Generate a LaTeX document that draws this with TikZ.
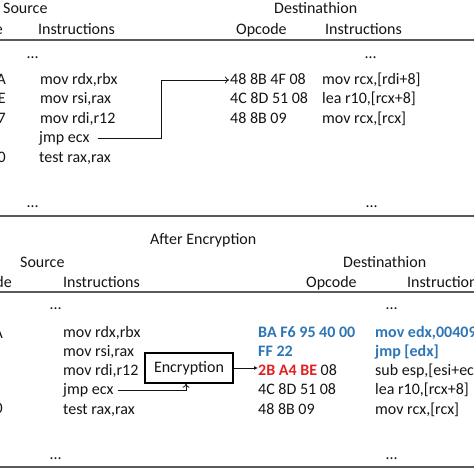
\documentclass[tikz,border=0pt]{standalone}
\usepackage{fontspec}
\setmainfont{Carlito}
\usetikzlibrary{arrows.meta}
\definecolor{ruleL}{RGB}{90,90,90}
\definecolor{encB}{RGB}{46,117,182}
\definecolor{encR}{RGB}{226,32,36}
\definecolor{txtC}{RGB}{20,20,20}

\begin{document}
\begin{tikzpicture}[
  x=1pt, y=-1pt,
  font=\fontsize{16}{19}\selectfont,
  txt/.style={anchor=west, inner sep=0pt, text height=11pt, text depth=3pt, text=txtC},
  frag/.style={txt, anchor=east},
  hot/.style={txt, text=encB, font=\fontsize{16}{19}\selectfont\bfseries},
  rule/.style={line width=1.4pt, draw=ruleL},
  flow/.style={-{To[length=4pt,width=7pt]}, line width=0.8pt, draw=txtC},
  feed/.style={-{Latex[length=4pt,width=4pt]}, line width=0.8pt, draw=txtC},
  encbox/.style={draw=black, line width=1.5pt, minimum width=88pt, minimum height=30pt, inner sep=0pt, text=txtC},
]
\useasboundingbox (0,0) rectangle (474,474);
\clip (0,0) rectangle (474,474);

% ---------- before encryption ----------
\node[txt] (srcT) at (3,9) {Source};
\node[txt] (dstT) at (274,9) {Destinathion};
\node[frag] (srcOp) at (3,30) {Opcode};
\node[txt] (srcIn) at (38,30) {Instructions};
\node[txt] (dstOp) at (236,30) {Opcode};
\node[txt] (dstIn) at (325,30) {Instructions};
\coordinate (ruleA) at (0,40);
\draw[rule] (ruleA) -- (ruleA -| 474,0);

\node[txt] (srcDots) at (27,54) {…};
\node[txt] (dstDots) at (365,54) {…};

\node[frag] (adrA) at (6,80) {A};
\node[frag] (adrB) at (6,99.5) {E};
\node[frag] (adrC) at (6,119) {7};
\node[frag] (adrE) at (6,158) {0};

\node[txt] (srcA) at (40,80) {mov rdx,rbx};
\node[txt] (srcB) at (40,99.5) {mov rsi,rax};
\node[txt] (srcC) at (40,119) {mov rdi,r12};
\node[txt] (srcD) at (39,138.5) {jmp ecx};
\node[txt] (srcE) at (39,158) {test rax,rax};

\node[txt] (opA) at (230,80) {48 8B 4F 08};
\node[txt] (opB) at (230,99.5) {4C 8D 51 08};
\node[txt] (opC) at (230,119) {48 8B 09};
\node[txt] (inA) at (322,80) {mov rcx,[rdi+8]};
\node[txt] (inB) at (322,99.5) {lea r10,[rcx+8]};
\node[txt] (inC) at (322,119) {mov rcx,[rcx]};

\node[txt] (srcEnd) at (27,203) {…};
\node[txt] (dstEnd) at (366,203) {…};
\coordinate (ruleB) at (0,216);
\draw[rule] (ruleB) -- (ruleB -| 474,0);

\coordinate (bendA) at (161,80);
\draw[flow] ([xshift=8pt]srcD.east) -| (bendA) -- ([xshift=-1pt]opA.west);

% ---------- after encryption ----------
\node[txt] (afterT) at (150,240) {After Encryption};
\node[txt] (srcT2) at (20,263) {Source};
\node[txt] (dstT2) at (343,263) {Destinathion};
\node[frag] (srcOp2) at (12,283) {Opcode};
\node[txt] (srcIn2) at (63,283) {Instructions};
\node[txt] (dstOp2) at (306,283) {Opcode};
\node[txt] (dstIn2) at (407,283) {Instructions};
\coordinate (ruleC) at (0,292);
\draw[rule] (ruleC) -- (ruleC -| 474,0);

\node[txt] (srcDots2) at (50,305) {…};
\node[txt] (dstDots2) at (386,305) {…};

\node[frag] (adrA2) at (3,334) {A};
\node[frag] (adrE2) at (3,409) {0};

\node[txt] (srcA2) at (63,333) {mov rdx,rbx};
\node[txt] (srcB2) at (63,352) {mov rsi,rax};
\node[txt] (srcC2) at (63,371) {mov rdi,r12};
\node[txt] (srcD2) at (63,390.5) {jmp ecx};
\node[txt] (srcE2) at (63,410) {test rax,rax};

\node[hot] (opA2) at (258,333) {BA F6 95 40 00};
\node[hot] (opB2) at (258,352) {FF 22};
\node[txt] (opC2) at (258,371) {{\color{encR}\bfseries 2B A4 BE} 08};
\node[txt] (opD2) at (258,390.5) {4C 8D 51 08};
\node[txt] (opE2) at (258,410) {48 8B 09};
\node[hot] (inA2) at (375,333) {mov edx,00409};
\node[hot] (inB2) at (375,352) {jmp [edx]};
\node[txt] (inC2) at (375,371) {sub esp,[esi+ec};
\node[txt] (inD2) at (375,390.5) {lea r10,[rcx+8]};
\node[txt] (inE2) at (375,410) {mov rcx,[rcx]};

\node[encbox] (enc) at (189,368) {Encryption};

\node[txt] (srcEnd2) at (50,455) {…};
\node[txt] (dstEnd2) at (386,455) {…};
\coordinate (ruleD) at (0,467);
\draw[rule] (ruleD) -- (ruleD -| 474,0);

\draw[flow] ([xshift=4pt]srcD2.east) -| ([xshift=-3pt]enc.south);
\draw[feed] (enc.east) -- (enc.east -| opC2.west);

\end{tikzpicture}
\end{document}
